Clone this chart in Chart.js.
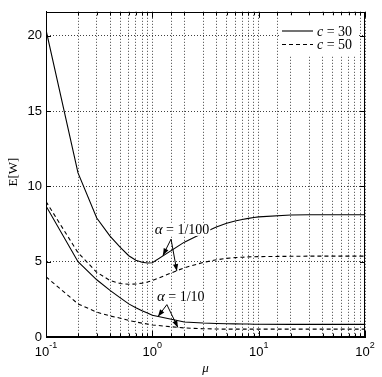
<!DOCTYPE html>
<html><head><meta charset="utf-8">
<script src="https://cdn.jsdelivr.net/npm/chart.js@4"></script>
<style>html,body{margin:0;padding:0;background:#fff}</style>
</head><body>
<div style="width:382px;height:377px"><canvas id="c" width="382" height="377"></canvas></div>
<script>
// ---- data ----
const mu = [0.1,0.2,0.3,0.4,0.5,0.6,0.7,0.8,0.9,1,2,3,4,5,6,7,8,9,10,20,30,40,50,60,70,80,90,100];
// alpha = 1/100, c = 30 (solid)
const ewA100c30 = [20.4,10.9,7.9,6.7,5.95,5.4,5.1,4.97,4.92,4.93,6.3,6.9,7.3,7.55,7.7,7.8,7.88,7.94,7.98,8.1,8.12,8.12,8.12,8.12,8.12,8.12,8.12,8.12];
// alpha = 1/100, c = 50 (dashed)
const ewA100c50 = [9.0,5.6,4.3,3.75,3.55,3.5,3.52,3.58,3.65,3.75,4.6,4.95,5.13,5.22,5.27,5.3,5.32,5.33,5.34,5.36,5.37,5.37,5.37,5.37,5.37,5.37,5.37,5.37];
// alpha = 1/10, c = 30 (solid)
const ewA10c30 = [8.7,5.0,3.8,3.1,2.6,2.2,1.95,1.75,1.6,1.45,1.0,0.93,0.9,0.88,0.87,0.86,0.86,0.85,0.85,0.84,0.84,0.84,0.84,0.84,0.84,0.84,0.84,0.84];
// alpha = 1/10, c = 50 (dashed)
const ewA10c50 = [4.0,2.2,1.65,1.4,1.25,1.1,1.0,0.92,0.86,0.8,0.6,0.55,0.53,0.52,0.52,0.52,0.52,0.52,0.52,0.52,0.52,0.52,0.52,0.52,0.52,0.52,0.52,0.52];
const seriesLabels = ['c = 30','c = 50'];
const xMajorTicks = [0.1,1,10,100];
const xMajorExp = ['-1','0','1','2'];
const yTickValues = [0,5,10,15,20];

const toPts = arr => mu.map((m,i)=>({x:m,y:arr[i]}));
const solid = {borderColor:'#000',borderWidth:1.1,pointRadius:0,fill:false,tension:0};
const dashed = Object.assign({},solid,{borderDash:[4,3]});

const annotations = [
  {text:'= 1/100', tx:1.9, ty:6.85, from:[1.50,6.5], to:[[1.258,5.42],[1.70,4.38]]},
  {text:'= 1/10', tx:1.85, ty:2.4, from:[1.37,2.15], to:[[1.13,1.36],[1.74,0.63]]}
];

const SERIF = '"Liberation Serif","DejaVu Serif",serif';
const SANS = '"Liberation Sans",Arial,sans-serif';

function arrow(ctx, x1,y1,x2,y2){
  ctx.beginPath(); ctx.moveTo(x1,y1); ctx.lineTo(x2,y2); ctx.stroke();
  const ang = Math.atan2(y2-y1,x2-x1), L=7, W=2.6;
  ctx.beginPath();
  ctx.moveTo(x2,y2);
  ctx.lineTo(x2-L*Math.cos(ang)+W*Math.sin(ang), y2-L*Math.sin(ang)-W*Math.cos(ang));
  ctx.lineTo(x2-L*Math.cos(ang)-W*Math.sin(ang), y2-L*Math.sin(ang)+W*Math.cos(ang));
  ctx.closePath(); ctx.fill();
}

const decor = {
  id:'decor',
  afterDatasetsDraw(chart){
    const {ctx, chartArea:a, scales:{x,y}} = chart;
    ctx.save();
    ctx.fillStyle='#000'; ctx.strokeStyle='#000'; ctx.lineWidth=1; ctx.setLineDash([]);
    // annotations
    annotations.forEach(an=>{
      const px = x.getPixelForValue(an.tx), py = y.getPixelForValue(an.ty);
      ctx.font = 'italic 15px '+SERIF;
      const wa = ctx.measureText('α').width;
      ctx.font = '14px '+SERIF;
      const wr = ctx.measureText(' '+an.text).width;
      const left = px - (wa+wr)/2;
      ctx.fillStyle='#fff';
      ctx.fillRect(left-1, py-11, wa+wr+2, 13);
      ctx.fillStyle='#000';
      ctx.textBaseline='alphabetic'; ctx.textAlign='left';
      ctx.font = 'italic 15px '+SERIF; ctx.fillText('α', left, py);
      ctx.font = '14px '+SERIF; ctx.fillText(' '+an.text, left+wa, py);
      const bx = x.getPixelForValue(an.from[0]), by = y.getPixelForValue(an.from[1]);
      an.to.forEach(t=>arrow(ctx,bx,by,x.getPixelForValue(t[0]),y.getPixelForValue(t[1])));
    });
    // legend
    ctx.fillStyle='#fff';
    ctx.fillRect(279,15,79,41);
    ctx.fillStyle='#000';
    const rows=[{y:31,dash:[]},{y:44.5,dash:[4,3]}];
    rows.forEach((r,i)=>{
      ctx.setLineDash(r.dash); ctx.lineWidth=1.1;
      ctx.beginPath(); ctx.moveTo(282,r.y); ctx.lineTo(313,r.y); ctx.stroke();
      ctx.setLineDash([]);
      const parts = seriesLabels[i].split(' ');
      ctx.font='italic 14px '+SERIF; ctx.textAlign='left'; ctx.textBaseline='alphabetic';
      ctx.fillText(parts[0], 317, r.y+4.5);
      const w = ctx.measureText(parts[0]).width;
      ctx.font='14px '+SERIF;
      ctx.fillText(' '+parts.slice(1).join(' '), 317+w, r.y+4.5);
    });
    ctx.restore();
  },
  afterDraw(chart){
    const {ctx, chartArea:a, scales:{x,y}} = chart;
    ctx.save();
    ctx.strokeStyle='#000'; ctx.fillStyle='#000'; ctx.lineWidth=1; ctx.setLineDash([]);
    // inward ticks
    x.ticks.forEach(t=>{
      const px = Math.round(x.getPixelForValue(t.value))+0.5;
      const lg = Math.log10(t.value);
      const len = Math.abs(lg-Math.round(lg))<1e-9 ? 6 : 3.5;
      ctx.beginPath();
      ctx.moveTo(px,a.bottom); ctx.lineTo(px,a.bottom-len);
      ctx.moveTo(px,a.top); ctx.lineTo(px,a.top+len);
      ctx.stroke();
    });
    yTickValues.forEach(v=>{
      const py = Math.round(y.getPixelForValue(v))+0.5;
      ctx.beginPath();
      ctx.moveTo(a.left,py); ctx.lineTo(a.left+5,py);
      ctx.moveTo(a.right,py); ctx.lineTo(a.right-5,py);
      ctx.stroke();
    });
    // frame
    ctx.strokeRect(Math.round(a.left)+0.5, Math.round(a.top)+0.5, Math.round(a.right-a.left)-1, Math.round(a.bottom-a.top)-1);
    // x tick labels with superscripts
    xMajorTicks.forEach((v,i)=>{
      const px = x.getPixelForValue(v);
      ctx.font='13px '+SANS;
      const w1 = ctx.measureText('10').width;
      ctx.font='9px '+SANS;
      const w2 = ctx.measureText(xMajorExp[i]).width;
      const left = px-(w1+w2)/2;
      ctx.textAlign='left'; ctx.textBaseline='alphabetic';
      ctx.font='13px '+SANS; ctx.fillText('10', left, 356);
      ctx.font='9px '+SANS; ctx.fillText(xMajorExp[i], left+w1, 348);
    });
    // axis titles
    ctx.font='italic 13px '+SERIF; ctx.textAlign='center';
    ctx.fillText('μ', (a.left+a.right)/2, 372);
    ctx.save();
    ctx.translate(17,172); ctx.rotate(-Math.PI/2);
    ctx.font='13px '+SERIF; ctx.textAlign='center'; ctx.textBaseline='alphabetic';
    ctx.fillText('E[W]',0,0);
    ctx.restore();
    ctx.restore();
  }
};

new Chart(document.getElementById('c'),{
  type:'line',
  data:{datasets:[
    Object.assign({label:'α = 1/100, '+seriesLabels[0], data:toPts(ewA100c30)},solid),
    Object.assign({label:'α = 1/100, '+seriesLabels[1], data:toPts(ewA100c50)},dashed),
    Object.assign({label:'α = 1/10, '+seriesLabels[0], data:toPts(ewA10c30)},solid),
    Object.assign({label:'α = 1/10, '+seriesLabels[1], data:toPts(ewA10c50)},dashed)
  ]},
  options:{
    responsive:false, animation:false, devicePixelRatio:1,
    layout:{padding:{top:10,right:17,left:0,bottom:0}},
    plugins:{legend:{display:false},tooltip:{enabled:false}},
    scales:{
      x:{type:'logarithmic',min:0.1,max:100,
        afterFit(s){s.height=40;},
        ticks:{display:false,autoSkip:false},
        grid:{color:'rgba(0,0,0,0.75)',lineWidth:1,drawTicks:false},
        border:{display:true,color:'#000',width:1,dash:[1,2]}
      },
      y:{type:'linear',min:0,max:21.6,
        afterFit(s){s.width=46;},
        afterBuildTicks(s){s.ticks = yTickValues.map(v=>({value:v}));},
        ticks:{color:'#000',font:{family:SANS,size:13},padding:4,
          callback:v=>yTickValues.includes(v)?String(v):''},
        grid:{color:'rgba(0,0,0,0.75)',lineWidth:1,drawTicks:false},
        border:{display:true,color:'#000',width:1,dash:[1,2]}
      }
    }
  },
  plugins:[decor]
});
</script>
</body></html>
